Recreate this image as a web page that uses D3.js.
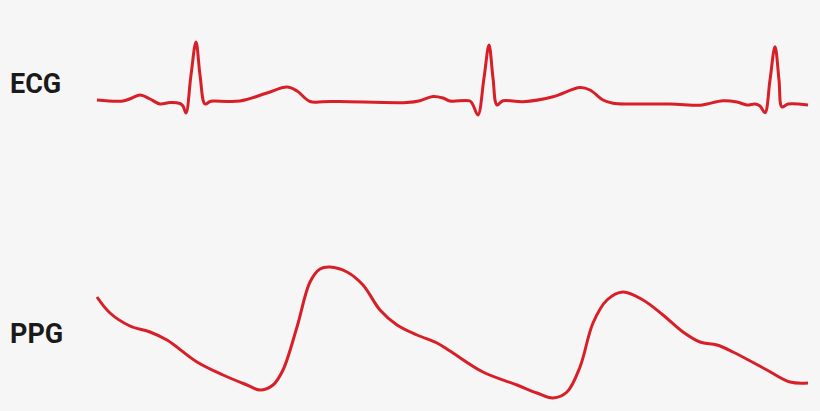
<!DOCTYPE html>
<html><head><meta charset="utf-8">
<script src="https://cdn.jsdelivr.net/npm/d3@7"></script>
<style>html,body{margin:0;padding:0;background:#f6f6f6;}svg{display:block;}</style>
</head><body>
<svg id="c" width="820" height="411"></svg>
<script>
// ECG: time (arbitrary units) and amplitude
const ecgT = [0,26,35,43,53,63,73,83,86,89,94,99,103,108,113,116,143,170,190,200,213,226,243,310,323,336,346,353,373,376,381,387,392,396,400,406,426,456,483,493,506,516,533,573,603,610,626,640,650,658,663,668,673,678,682,685,691,711];
const ecgV = [1,0,3,6,2,-3,-1.5,-2.5,-5,-12,26,59,26,-3,-0.5,0,0,8,14,10,-0.5,-0.7,-0.5,-1.5,0.3,4.5,3,0,0,-4,-14,23,56,23,-4,0.3,-0.7,4.3,13.5,11,1,-2.3,-3,-3,-4.3,-3,0.3,-1,-4,-3,-5,-11.7,21,54.3,21,-6,-3,-4];
// PPG: time and amplitude
const ppgT = [0,13,33,53,70,100,126,150,163,176,186,200,213,223,233,250,266,283,300,320,340,353,386,420,440,456,470,483,496,510,526,546,566,586,603,620,636,670,693,711];
const ppgV = [103,87,74,68,60,38,25,15,10,15,30,73,118,131,133,128,115,90,75,65,57,49,28,15,7,2,8,33,77,100,108,100,85,68,58,55,48,30,18,17];
const labels = ["ECG","PPG"];

const svg = d3.select("#c");
const red = "#d81f27";
const x = d3.scaleLinear().domain([0,711]).range([97,808]);
const yE = d3.scaleLinear().domain([-20,70]).range([121,31]);
const yP = d3.scaleLinear().domain([0,140]).range([400,260]);

const ecg = ecgT.map((t,i)=>[t,ecgV[i]]);
const ppg = ppgT.map((t,i)=>[t,ppgV[i]]);

svg.append("path").datum(ecg)
  .attr("fill","none").attr("stroke",red).attr("stroke-width",3).attr("stroke-linejoin","round")
  .attr("d", d3.line().x(d=>x(d[0])).y(d=>yE(d[1])).curve(d3.curveCatmullRom.alpha(0.5)));

svg.append("path").datum(ppg)
  .attr("fill","none").attr("stroke",red).attr("stroke-width",3).attr("stroke-linejoin","round")
  .attr("d", d3.line().x(d=>x(d[0])).y(d=>yP(d[1])).curve(d3.curveCatmullRom.alpha(0.5)));

svg.selectAll("text.lbl").data(labels).enter().append("text")
  .attr("class","lbl")
  .attr("x",10).attr("y",(d,i)=>i===0?93:343)
  .attr("font-family","Roboto, sans-serif").attr("font-weight","bold")
  .attr("font-size",27).attr("fill","#1a1a1a")
  .text(d=>d);
</script>
</body></html>
